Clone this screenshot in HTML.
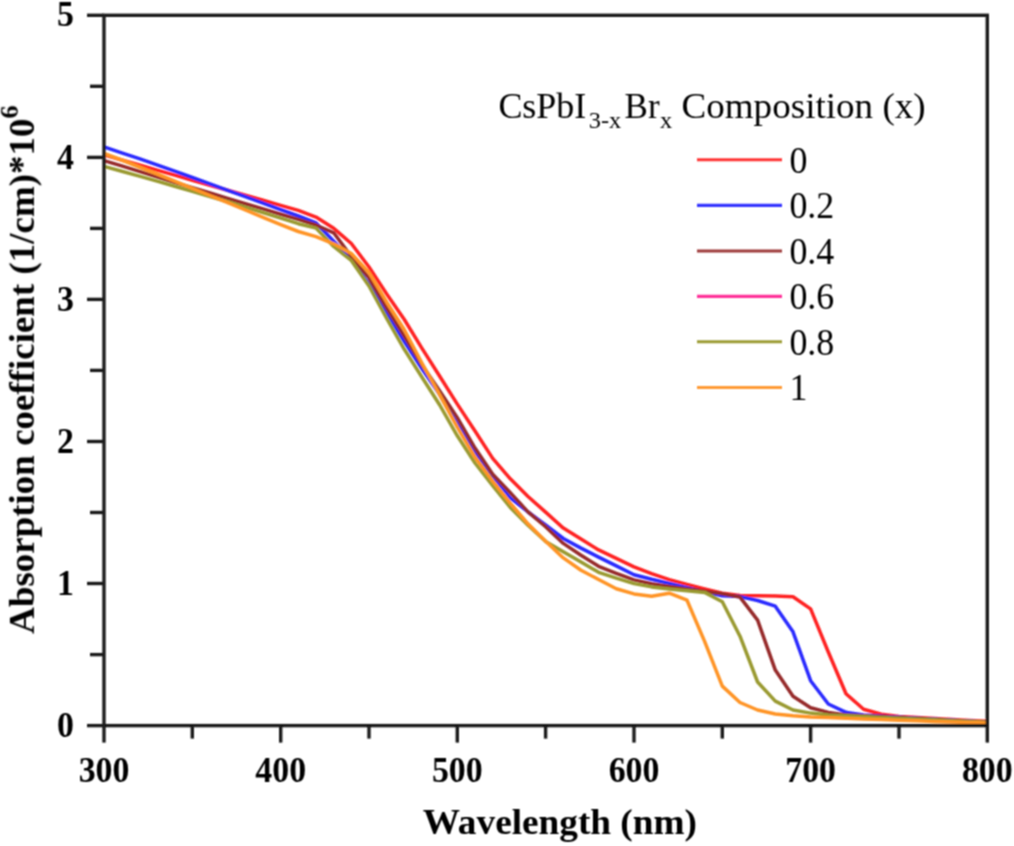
<!DOCTYPE html>
<html><head><meta charset="utf-8"><style>
html,body{margin:0;padding:0;background:#fff;}
body{width:1014px;height:846px;overflow:hidden;}
svg{display:block;} 
text{font-family:"Liberation Serif",serif;fill:#000;}
.tk{font-size:36px;font-weight:bold;}
.al{font-size:35px;font-weight:bold;}
.lg{font-size:35px;}
.lt{font-size:37px;}
</style></head><body>
<svg width="1014" height="846" viewBox="0 0 1014 846">
<defs><filter id="bl" filterUnits="userSpaceOnUse" x="0" y="0" width="1014" height="846"><feConvolveMatrix order="3" kernelMatrix="1 2 1 2 4 2 1 2 1" divisor="16" edgeMode="duplicate" preserveAlpha="false"/></filter></defs>
<rect width="1014" height="846" fill="#fff"/>
<g filter="url(#bl)">
<path d="M104.0,154.9 L121.7,160.0 L139.3,165.0 L157.0,170.1 L174.7,175.1 L192.3,180.2 L210.0,185.2 L227.7,190.3 L245.3,195.3 L263.0,200.3 L280.7,205.4 L298.3,210.4 L316.0,217.1 L333.7,228.3 L351.3,243.5 L369.0,267.0 L386.7,294.0 L404.3,319.5 L422.0,348.3 L439.7,376.3 L457.3,404.1 L475.0,431.0 L492.7,458.4 L510.3,478.8 L528.0,496.5 L545.6,512.1 L563.3,528.1 L581.0,539.1 L598.6,549.9 L616.3,558.4 L634.0,566.8 L651.6,573.6 L669.3,579.6 L687.0,584.4 L704.6,589.0 L722.3,593.3 L740.0,595.4 L757.6,595.8 L775.3,596.0 L793.0,596.8 L810.6,608.9 L828.3,652.0 L846.0,693.7 L863.6,709.2 L881.3,714.3 L899.0,716.4 L916.6,717.5 L934.3,718.6 L952.0,719.6 L969.6,720.5 L987.3,721.3" fill="none" stroke="#ff2424" stroke-width="3.5" stroke-linejoin="round"/>
<path d="M104.0,146.9 L121.7,152.8 L139.3,158.7 L157.0,164.9 L174.7,171.2 L192.3,177.5 L210.0,183.9 L227.7,190.3 L245.3,196.7 L263.0,203.1 L280.7,209.6 L298.3,216.0 L316.0,223.0 L333.7,241.3 L351.3,258.9 L369.0,284.5 L386.7,312.8 L404.3,341.5 L422.0,368.7 L439.7,394.5 L457.3,423.8 L475.0,452.2 L492.7,476.2 L510.3,498.0 L528.0,512.0 L545.6,525.0 L563.3,538.5 L581.0,548.1 L598.6,557.1 L616.3,565.9 L634.0,574.7 L651.6,579.3 L669.3,583.4 L687.0,587.6 L704.6,591.9 L722.3,595.7 L740.0,596.6 L757.6,600.5 L775.3,606.2 L793.0,631.8 L810.6,680.7 L828.3,704.0 L846.0,712.3 L863.6,715.1 L881.3,716.2 L899.0,717.2 L916.6,718.3 L934.3,719.3 L952.0,720.3 L969.6,721.3 L987.3,722.3" fill="none" stroke="#2a2aff" stroke-width="3.5" stroke-linejoin="round"/>
<path d="M104.0,160.6 L121.7,165.9 L139.3,171.4 L157.0,176.9 L174.7,182.3 L192.3,187.7 L210.0,193.0 L227.7,198.4 L245.3,203.7 L263.0,208.9 L280.7,214.2 L298.3,219.4 L316.0,225.0 L333.7,232.8 L351.3,256.5 L369.0,278.0 L386.7,308.0 L404.3,336.1 L422.0,364.9 L439.7,391.1 L457.3,417.6 L475.0,448.1 L492.7,474.3 L510.3,492.8 L528.0,511.9 L545.6,526.7 L563.3,543.4 L581.0,555.2 L598.6,566.3 L616.3,573.3 L634.0,579.9 L651.6,583.8 L669.3,586.4 L687.0,588.9 L704.6,591.2 L722.3,593.7 L740.0,597.1 L757.6,620.1 L775.3,670.1 L793.0,696.3 L810.6,707.7 L828.3,712.4 L846.0,714.9 L863.6,715.8 L881.3,716.7 L899.0,717.7 L916.6,718.6 L934.3,719.5 L952.0,720.5 L969.6,721.4 L987.3,722.3" fill="none" stroke="#962a2a" stroke-width="3.5" stroke-linejoin="round"/>
<path d="M104.0,166.4 L121.7,171.3 L139.3,176.1 L157.0,181.1 L174.7,186.2 L192.3,191.3 L210.0,196.5 L227.7,201.8 L245.3,207.2 L263.0,212.6 L280.7,218.1 L298.3,223.7 L316.0,228.1 L333.7,246.5 L351.3,260.5 L369.0,286.0 L386.7,318.4 L404.3,349.3 L422.0,377.2 L439.7,405.0 L457.3,435.8 L475.0,463.0 L492.7,485.6 L510.3,507.5 L528.0,525.3 L545.6,541.4 L563.3,551.7 L581.0,562.0 L598.6,572.3 L616.3,578.2 L634.0,583.6 L651.6,586.9 L669.3,588.9 L687.0,590.7 L704.6,592.4 L722.3,601.8 L740.0,636.2 L757.6,682.0 L775.3,701.1 L793.0,710.0 L810.6,713.1 L828.3,714.9 L846.0,715.7 L863.6,716.5 L881.3,717.4 L899.0,718.2 L916.6,719.0 L934.3,719.8 L952.0,720.7 L969.6,721.5 L987.3,722.3" fill="none" stroke="#9a9a30" stroke-width="3.5" stroke-linejoin="round"/>
<path d="M104.0,153.5 L121.7,160.0 L139.3,167.0 L157.0,174.0 L174.7,181.2 L192.3,188.3 L210.0,195.5 L227.7,202.7 L245.3,210.0 L263.0,217.3 L280.7,224.6 L298.3,231.5 L316.0,236.6 L333.7,243.8 L351.3,253.5 L369.0,272.7 L386.7,302.2 L404.3,329.8 L422.0,363.2 L439.7,394.9 L457.3,427.2 L475.0,457.1 L492.7,481.1 L510.3,503.2 L528.0,523.8 L545.6,541.2 L563.3,557.9 L581.0,570.3 L598.6,579.5 L616.3,588.7 L634.0,593.9 L651.6,596.3 L669.3,593.2 L687.0,600.2 L704.6,641.4 L722.3,686.1 L740.0,702.5 L757.6,710.0 L775.3,714.0 L793.0,715.8 L810.6,716.9 L828.3,717.6 L846.0,718.2 L863.6,718.9 L881.3,719.6 L899.0,720.3 L916.6,720.8 L934.3,721.4 L952.0,721.9 L969.6,722.5 L987.3,723.0" fill="none" stroke="#ff9426" stroke-width="3.5" stroke-linejoin="round"/>
<rect x="104.0" y="15.3" width="883.3" height="710.3000000000001" fill="none" stroke="#1a1a1a" stroke-width="3.4"/>
<line x1="104.0" y1="725.6" x2="104.0" y2="742.6" stroke="#1a1a1a" stroke-width="3.4"/>
<line x1="192.3" y1="725.6" x2="192.3" y2="738.6" stroke="#1a1a1a" stroke-width="3.4"/>
<line x1="280.7" y1="725.6" x2="280.7" y2="742.6" stroke="#1a1a1a" stroke-width="3.4"/>
<line x1="369.0" y1="725.6" x2="369.0" y2="738.6" stroke="#1a1a1a" stroke-width="3.4"/>
<line x1="457.3" y1="725.6" x2="457.3" y2="742.6" stroke="#1a1a1a" stroke-width="3.4"/>
<line x1="545.6" y1="725.6" x2="545.6" y2="738.6" stroke="#1a1a1a" stroke-width="3.4"/>
<line x1="634.0" y1="725.6" x2="634.0" y2="742.6" stroke="#1a1a1a" stroke-width="3.4"/>
<line x1="722.3" y1="725.6" x2="722.3" y2="738.6" stroke="#1a1a1a" stroke-width="3.4"/>
<line x1="810.6" y1="725.6" x2="810.6" y2="742.6" stroke="#1a1a1a" stroke-width="3.4"/>
<line x1="899.0" y1="725.6" x2="899.0" y2="738.6" stroke="#1a1a1a" stroke-width="3.4"/>
<line x1="987.3" y1="725.6" x2="987.3" y2="742.6" stroke="#1a1a1a" stroke-width="3.4"/>
<line x1="104.0" y1="725.6" x2="87.0" y2="725.6" stroke="#1a1a1a" stroke-width="3.4"/>
<line x1="104.0" y1="654.6" x2="90.0" y2="654.6" stroke="#1a1a1a" stroke-width="3.4"/>
<line x1="104.0" y1="583.5" x2="87.0" y2="583.5" stroke="#1a1a1a" stroke-width="3.4"/>
<line x1="104.0" y1="512.5" x2="90.0" y2="512.5" stroke="#1a1a1a" stroke-width="3.4"/>
<line x1="104.0" y1="441.5" x2="87.0" y2="441.5" stroke="#1a1a1a" stroke-width="3.4"/>
<line x1="104.0" y1="370.4" x2="90.0" y2="370.4" stroke="#1a1a1a" stroke-width="3.4"/>
<line x1="104.0" y1="299.4" x2="87.0" y2="299.4" stroke="#1a1a1a" stroke-width="3.4"/>
<line x1="104.0" y1="228.4" x2="90.0" y2="228.4" stroke="#1a1a1a" stroke-width="3.4"/>
<line x1="104.0" y1="157.4" x2="87.0" y2="157.4" stroke="#1a1a1a" stroke-width="3.4"/>
<line x1="104.0" y1="86.3" x2="90.0" y2="86.3" stroke="#1a1a1a" stroke-width="3.4"/>
<line x1="104.0" y1="15.3" x2="87.0" y2="15.3" stroke="#1a1a1a" stroke-width="3.4"/>
<line x1="697" y1="159.7" x2="782" y2="159.7" stroke="#ff3434" stroke-width="3.1"/>
<text transform="translate(789.4,172.5) scale(0.97,1)" class="lt">0</text>
<line x1="697" y1="205.4" x2="782" y2="205.4" stroke="#3636ff" stroke-width="3.1"/>
<text transform="translate(789.4,218.20000000000002) scale(0.97,1)" class="lt">0.2</text>
<line x1="697" y1="251.0" x2="782" y2="251.0" stroke="#9e3a3a" stroke-width="3.1"/>
<text transform="translate(789.4,263.8) scale(0.97,1)" class="lt">0.4</text>
<line x1="697" y1="296.4" x2="782" y2="296.4" stroke="#ff3399" stroke-width="3.1"/>
<text transform="translate(789.4,309.2) scale(0.97,1)" class="lt">0.6</text>
<line x1="697" y1="341.8" x2="782" y2="341.8" stroke="#9b9b35" stroke-width="3.1"/>
<text transform="translate(789.4,354.6) scale(0.97,1)" class="lt">0.8</text>
<line x1="697" y1="387.5" x2="782" y2="387.5" stroke="#ff9a36" stroke-width="3.1"/>
<text transform="translate(789.4,400.3) scale(0.97,1)" class="lt">1</text>
<text transform="translate(74,736.7) scale(0.94,1)" class="tk" text-anchor="end">0</text>
<text transform="translate(74,594.6) scale(0.94,1)" class="tk" text-anchor="end">1</text>
<text transform="translate(74,452.6) scale(0.94,1)" class="tk" text-anchor="end">2</text>
<text transform="translate(74,310.5) scale(0.94,1)" class="tk" text-anchor="end">3</text>
<text transform="translate(74,168.5) scale(0.94,1)" class="tk" text-anchor="end">4</text>
<text transform="translate(74,26.4) scale(0.94,1)" class="tk" text-anchor="end">5</text>
<text transform="translate(104.0,781.5) scale(0.94,1)" class="tk" text-anchor="middle">300</text>
<text transform="translate(280.7,781.5) scale(0.94,1)" class="tk" text-anchor="middle">400</text>
<text transform="translate(457.3,781.5) scale(0.94,1)" class="tk" text-anchor="middle">500</text>
<text transform="translate(634.0,781.5) scale(0.94,1)" class="tk" text-anchor="middle">600</text>
<text transform="translate(810.6,781.5) scale(0.94,1)" class="tk" text-anchor="middle">700</text>
<text transform="translate(987.3,781.5) scale(0.94,1)" class="tk" text-anchor="middle">800</text>
<text transform="translate(559.8,833.6) scale(1.065,1)" class="al" text-anchor="middle">Wavelength (nm)</text>
<text transform="translate(33.9,633.8) rotate(-90) scale(1.056,1)" class="al">Absorption coefficient (1/cm)*10<tspan dy="-16" font-size="25">6</tspan></text>
<text transform="translate(498.4,117.5) scale(1.027,1)" class="lg">CsPbI</text>
<text transform="translate(588.8,128) scale(1.06,1)" class="lg" style="font-size:23px">3-x</text>
<text x="624.6" y="117.5" class="lg">Br</text>
<text transform="translate(660,128) scale(1.06,1)" class="lg" style="font-size:23px">x</text>
<text transform="translate(681.5,117.5) scale(1.06,1)" class="lg">Composition (x)</text>
</g>
</svg>
</body></html>
